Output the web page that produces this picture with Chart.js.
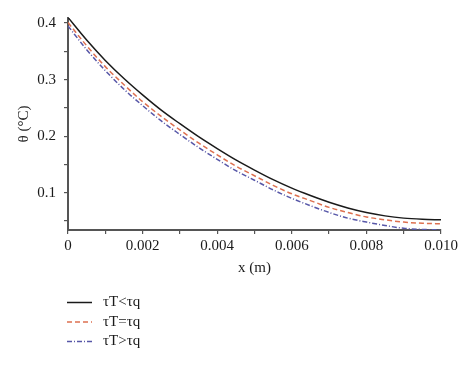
<!DOCTYPE html>
<html>
<head>
<meta charset="utf-8">
<script src="https://cdn.jsdelivr.net/npm/chart.js@4.4.1/dist/chart.umd.min.js"></script>
<style>
  html, body { margin: 0; padding: 0; background: #fff; }
  #wrap { width: 474px; height: 366px; position: relative; }
</style>
</head>
<body>
<div id="wrap"><canvas id="thetaChart" width="474" height="366"></canvas></div>
<script>
// x positions (m)
const xValues = [0, 0.0005, 0.001, 0.0015, 0.002, 0.0025, 0.003, 0.0035, 0.004, 0.0045, 0.005,
  0.0055, 0.006, 0.0065, 0.007, 0.0075, 0.008, 0.0085, 0.009, 0.0095, 0.010];

// theta (degC) for each case
const tauLess = [0.410, 0.370, 0.334, 0.302, 0.273, 0.246, 0.222, 0.199, 0.178, 0.158, 0.140,
  0.123, 0.108, 0.095, 0.083, 0.073, 0.065, 0.059, 0.055, 0.053, 0.052];
const tauEqual = [0.401, 0.360, 0.323, 0.291, 0.261, 0.235, 0.211, 0.188, 0.167, 0.147, 0.130,
  0.113, 0.098, 0.086, 0.074, 0.065, 0.057, 0.052, 0.048, 0.046, 0.045];
const tauGreater = [0.395, 0.353, 0.316, 0.283, 0.254, 0.227, 0.203, 0.180, 0.159, 0.139, 0.122,
  0.105, 0.090, 0.077, 0.065, 0.055, 0.048, 0.042, 0.037, 0.035, 0.034];

const seriesLabels = ["τT<τq", "τT=τq", "τT>τq"];

const xTicks = [0, 0.001, 0.002, 0.003, 0.004, 0.005, 0.006, 0.007, 0.008, 0.009, 0.010];
const xTickLabels = ["0", "", "0.002", "", "0.004", "", "0.006", "", "0.008", "", "0.010"];
const yTicks = [0.05, 0.1, 0.15, 0.2, 0.25, 0.3, 0.35, 0.4];
const yTickLabels = ["", "0.1", "", "0.2", "", "0.3", "", "0.4"];

const serif = "'Liberation Serif', 'DejaVu Serif', serif";
const axisColor = "#555";

function toPoints(ys) {
  return xValues.map((x, i) => ({ x: x, y: ys[i] }));
}

// legend drawn below the plot, stacked on the left
const stackedLegend = {
  id: "stackedLegend",
  afterDraw(chart) {
    const ctx = chart.ctx;
    ctx.save();
    chart.data.datasets.forEach((ds, i) => {
      const y = 302.5 + i * 19.5;
      ctx.beginPath();
      ctx.strokeStyle = ds.borderColor;
      ctx.lineWidth = 1.5;
      ctx.setLineDash(ds.borderDash || []);
      ctx.moveTo(67, y);
      ctx.lineTo(92, y);
      ctx.stroke();
      ctx.setLineDash([]);
      ctx.fillStyle = "#1a1a1a";
      ctx.font = "15px " + serif;
      ctx.textBaseline = "middle";
      ctx.fillText(ds.label, 103, y);
    });
    ctx.restore();
  },
};

const ctx = document.getElementById("thetaChart").getContext("2d");
new Chart(ctx, {
  type: "line",
  data: {
    datasets: [
      {
        label: seriesLabels[0],
        data: toPoints(tauLess),
        borderColor: "#1a1a1a",
        borderWidth: 1.5,
        pointRadius: 0,
        cubicInterpolationMode: "monotone",
      },
      {
        label: seriesLabels[1],
        data: toPoints(tauEqual),
        borderColor: "#dd7050",
        borderWidth: 1.5,
        borderDash: [5, 3],
        pointRadius: 0,
        cubicInterpolationMode: "monotone",
      },
      {
        label: seriesLabels[2],
        data: toPoints(tauGreater),
        borderColor: "#5757a8",
        borderWidth: 1.5,
        borderDash: [5, 2, 1, 2],
        pointRadius: 0,
        cubicInterpolationMode: "monotone",
      },
    ],
  },
  options: {
    responsive: false,
    animation: false,
    layout: { padding: { left: 0, top: 18, right: 33, bottom: 86 } },
    plugins: {
      legend: { display: false },
      tooltip: { enabled: false },
    },
    scales: {
      x: {
        type: "linear",
        min: 0,
        max: 0.010,
        afterFit: (scale) => { scale.height = 50; },
        afterBuildTicks: (scale) => { scale.ticks = xTicks.map(v => ({ value: v })); },
        ticks: {
          color: "#1a1a1a",
          font: { size: 15, family: serif },
          padding: 3,
          maxRotation: 0,
          autoSkip: false,
          callback: (v, i) => xTickLabels[i],
        },
        grid: { drawOnChartArea: false, drawTicks: true, tickLength: 4, color: axisColor, lineWidth: 1.2 },
        border: { color: axisColor, width: 2 },
        title: {
          display: true,
          text: "x (m)",
          color: "#1a1a1a",
          font: { size: 15, family: serif },
          padding: { top: 0, bottom: 3 },
        },
      },
      y: {
        min: 0.034,
        max: 0.409,
        afterFit: (scale) => { scale.width = 68; },
        afterBuildTicks: (scale) => { scale.ticks = yTicks.map(v => ({ value: v })); },
        ticks: {
          color: "#1a1a1a",
          font: { size: 15, family: serif },
          padding: 8,
          autoSkip: false,
          callback: (v, i) => yTickLabels[i],
        },
        grid: { drawOnChartArea: false, drawTicks: true, tickLength: 4, color: axisColor, lineWidth: 1.2 },
        border: { color: axisColor, width: 2 },
        title: {
          display: true,
          text: "θ (°C)",
          color: "#1a1a1a",
          font: { size: 15, family: serif },
          padding: { top: 15, bottom: 0 },
        },
      },
    },
  },
  plugins: [stackedLegend],
});
</script>
</body>
</html>
